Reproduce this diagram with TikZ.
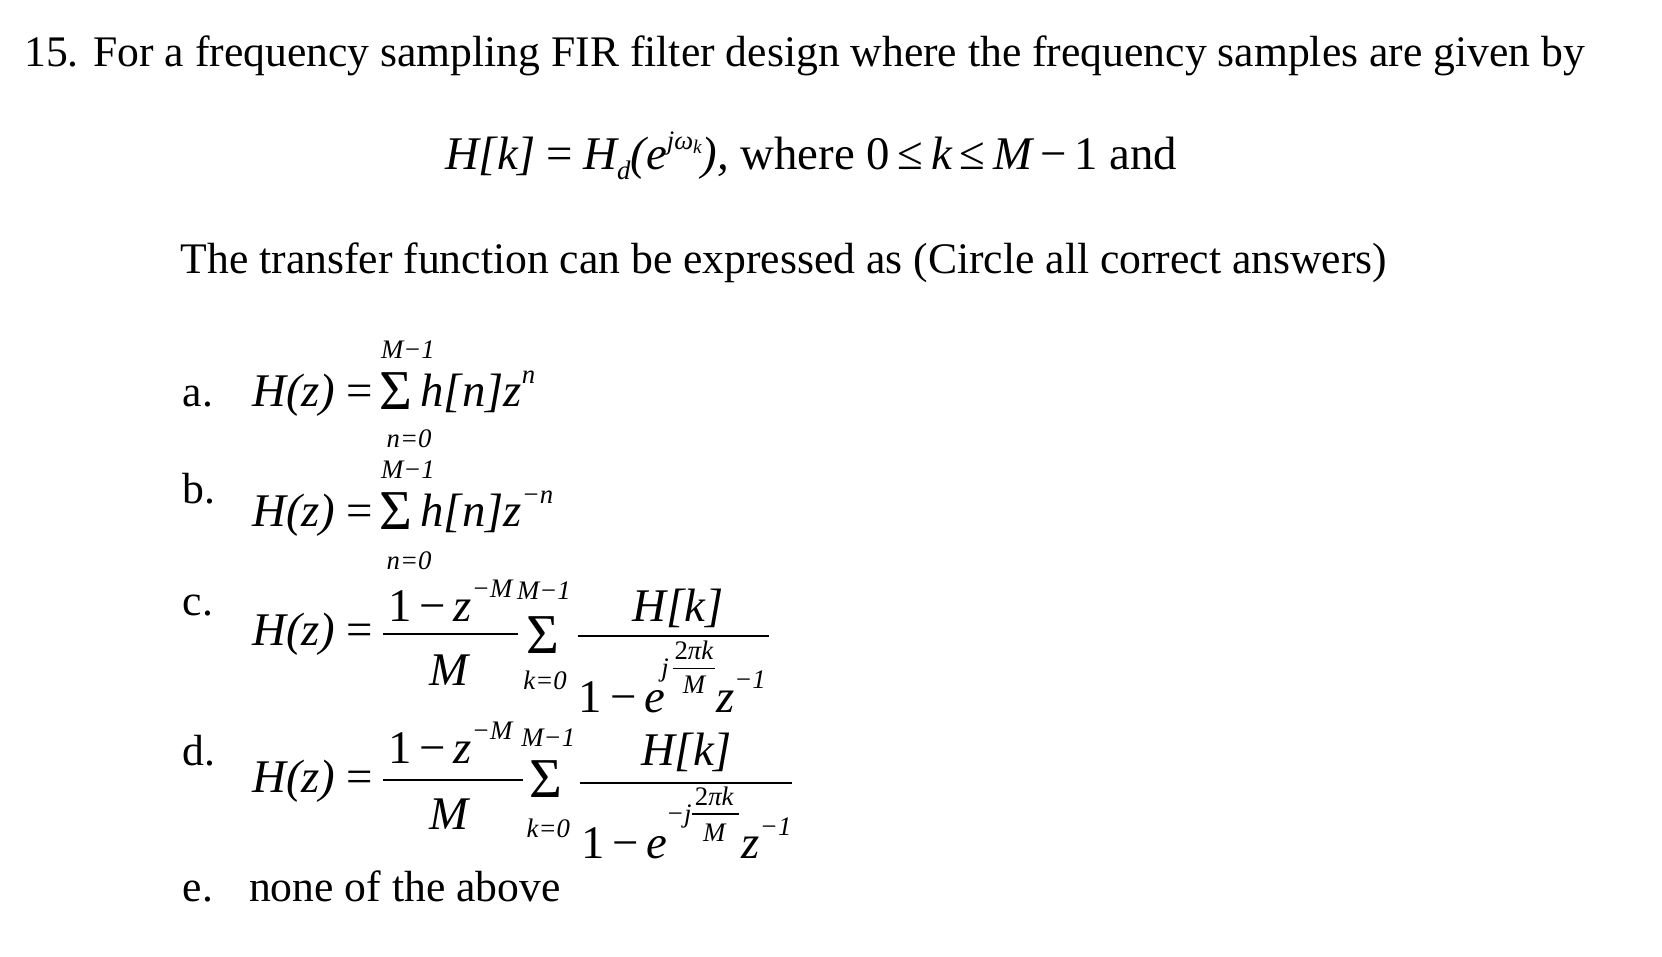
\documentclass[tikz,border=0pt]{standalone}
\usepackage{fontspec}
\setmainfont{Liberation Serif}
\newcommand\szA{\fontsize{12.4pt}{14pt}\selectfont}
\newcommand\szM{\fontsize{13.3pt}{15pt}\selectfont}
\newcommand\szS{\fontsize{7.6pt}{8pt}\selectfont}
\newcommand\szSig{\fontsize{16pt}{16pt}\selectfont}
\begin{document}
\begin{tikzpicture}[x=0.0107cm,y=-0.0107cm,
  t/.style={inner sep=0pt,anchor=base west,font=\szA},
  m/.style={inner sep=0pt,anchor=base west,font=\szM\itshape},
  s/.style={inner sep=0pt,anchor=base,font=\szS\itshape},
  sig/.style={inner sep=0pt,anchor=base,font=\szSig},
  bar/.style={line width=0.55pt}]
\useasboundingbox (0,0) rectangle (1552,893);
\node[t] (l1) at (22,62) {15. For a frequency sampling FIR filter design where the frequency samples are given by};
\node[m] (l2) at (415,158) {H[k]\,=\,H\raisebox{-0.5ex}{\szS d}(e\raisebox{0.9ex}{\szS jω\raisebox{-0.3ex}{\fontsize{5.5pt}{5.5pt}\selectfont k}}), \upshape where 0\,≤\,\itshape k\,\upshape≤\,\itshape M\,\upshape−\,1 and};
\node[t] (l3) at (168,255) {The transfer function can be expressed as (Circle all correct answers)};
% a
\node[t] (la) at (170,380) {a.};
\node[m] (ha) at (235,380) {H(z)\,=};
\node[sig] (sa) at (370,382) {Σ};
\node[s] (ua) at (381,335) {M−1};
\node[s] (da) at (382,418) {n=0};
\node[m] (ra) at (392,380) {h[n]z\raisebox{1.1ex}{\szS n}};
% b
\node[t] (lb) at (170,470) {b.};
\node[m] (hb) at (235,492) {H(z)\,=};
\node[sig] (sb) at (370,494) {Σ};
\node[s] (ub) at (381,447) {M−1};
\node[s] (db) at (382,532) {n=0};
\node[m] (rb) at (392,492) {h[n]z\raisebox{1.1ex}{\szS −n}};
% c
\node[t] (lc) at (170,575) {c.};
\node[m] (hc) at (235,603) {H(z)\,=};
\node[m] (nc) at (362,580) {\upshape 1\,−\,\itshape z\raisebox{1.1ex}{\szS −M}};
\coordinate (bc1) at (358,592); \coordinate (bc2) at (484,592);
\draw[bar] (bc1) -- (bc2);
\node[m] (mc) at (400,640) {M};
\node[sig] (sc) at (507,610) {Σ};
\node[s] (uc) at (508,560) {M−1};
\node[s] (dc) at (509,644) {k=0};
\node[m] (kc) at (590,580) {H[k]};
\coordinate (fc1) at (540,594); \coordinate (fc2) at (718,594);
\draw[bar] (fc1) -- (fc2);
\node[m] (ec) at (540,665) {\upshape 1\,−\,\itshape e};
\node[s] (jc) at (621,632) {j};
\node[s] (pc) at (648,616) {\upshape 2\itshape πk};
\coordinate (gc1) at (628,624); \coordinate (gc2) at (668,624);
\draw[line width=0.4pt] (gc1) -- (gc2);
\node[s] (qc) at (648,648) {M};
\node[m] (zc) at (668,665) {z\raisebox{1.1ex}{\szS −1}};
% d
\node[t] (ld) at (170,715) {d.};
\node[m] (hd) at (235,740) {H(z)\,=};
\node[m] (nd) at (362,713) {\upshape 1\,−\,\itshape z\raisebox{1.1ex}{\szS −M}};
\coordinate (bd1) at (358,728); \coordinate (bd2) at (488,728);
\draw[bar] (bd1) -- (bd2);
\node[m] (md) at (400,775) {M};
\node[sig] (sd) at (510,745) {Σ};
\node[s] (ud) at (512,697) {M−1};
\node[s] (dd) at (512,782) {k=0};
\node[m] (kd) at (598,715) {H[k]};
\coordinate (fd1) at (542,731); \coordinate (fd2) at (740,731);
\draw[bar] (fd1) -- (fd2);
\node[m] (ed) at (542,802) {\upshape 1\,−\,\itshape e};
\node[s] (jd) at (634,768) {−j};
\node[s] (pd) at (667,752) {\upshape 2\itshape πk};
\coordinate (gd1) at (646,760); \coordinate (gd2) at (690,760);
\draw[line width=0.4pt] (gd1) -- (gd2);
\node[s] (qd) at (667,786) {M};
\node[m] (zd) at (692,802) {z\raisebox{1.1ex}{\szS −1}};
% e
\node[t] (le) at (170,842) {e.};
\node[t] (re) at (232,842) {none of the above};
\end{tikzpicture}
\end{document}
